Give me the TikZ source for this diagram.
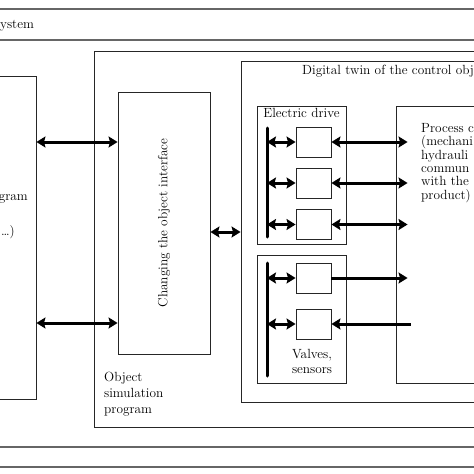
\documentclass[tikz,border=0pt]{standalone}
\usepackage{tikz}
\usetikzlibrary{arrows.meta,positioning,calc}

\tikzset{
  box/.style={draw=black!85,line width=0.9pt,inner sep=0pt},
  unit/.style={box,minimum width=35pt,minimum height=30pt},
  txt/.style={inner sep=0pt},
  both/.style={line width=3pt,{Stealth[length=9pt,width=11pt,inset=1.5pt]}-{Stealth[length=9pt,width=11pt,inset=1.5pt]}},
  tip/.style={line width=3pt,-{Stealth[length=9pt,width=11pt,inset=1.5pt]}},
  bus/.style={line width=3pt,line cap=round},
  rule/.style={draw=black!60,line width=1.3pt},
}

\begin{document}
\begin{tikzpicture}[x=1pt,y=-1pt,font=\fontsize{13.3}{15}\selectfont]
  \useasboundingbox (0,0) rectangle (474,474);
  \clip (0,0) rectangle (474,474);
  %system band
  \draw[rule] (0,9)--(474,9) (0,40)--(474,40);
  \draw[rule] (0,447)--(474,447) (0,467)--(474,467);
  \node[txt,anchor=west] (sys) at (0,26) {ystem};

  %frames
  \node[box,minimum width=396pt,minimum height=376pt] (sim) at (292,239) {};
  \node[box,minimum width=249pt,minimum height=341pt] (twin) at (365.5,231.5) {};
  \node[box,minimum width=56pt,minimum height=323pt] (prog) at (8,237.5) {};
  \node[box,minimum width=92pt,minimum height=262pt] (iface) at (164,223) {};
  \node[box,minimum width=89pt,minimum height=138pt] (drive) at (301.5,175) {};
  \node[box,minimum width=89pt,minimum height=128pt] (valves) at (301.5,319) {};
  \node[box,minimum width=94pt,minimum height=277pt] (proc) at (443,244.5) {};

  %labels
  \node[txt,rotate=90] (ifacetxt) at (iface.center) {Changing the object interface};
  \node[txt,anchor=west] (twintxt) at (302,71) {Digital twin of the control obj};
  \node[txt,below=3pt of drive.north] (drivetxt) {Electric drive};
  \node[txt,align=center] (valvestxt) at (312,361) {Valves,\\sensors};
  \node[txt,align=left,anchor=north west,font=\fontsize{13.3}{16}\selectfont] (simtxt) at (104,372)
    {Object\\simulation\\program};
  \node[txt,align=left,anchor=north west,font=\fontsize{13.3}{13.4}\selectfont] (proctxt) at (421,123)
    {Process c\\(mechani\\hydrauli\\commun\\with the\\product)};
  \node[txt,anchor=east] (progtxt) at (28,199) {gram};
  \node[txt,anchor=east] (progtxt2) at (15,232) {\dots)};

  %links of the control program
  \draw[both] (prog.east |- 0,142) -- (iface.west |- 0,142);
  \draw[both] (prog.east |- 0,323) -- (iface.west |- 0,323);
  \draw[both] (iface.east |- 0,232) -- (twin.west |- 0,232);

  %units and buses
  \foreach \n/\y in {1/142,2/183,3/224.5} \node[unit] (d\n) at (313.5,\y) {};
  \foreach \n/\y in {1/278,2/324} \node[unit] (v\n) at (313.5,\y) {};
  \coordinate (busa) at (267,128);
  \coordinate (busb) at (267,237);
  \coordinate (busc) at (267,263);
  \coordinate (busd) at (267,376);
  \draw[bus] (busa)--(busb);
  \draw[bus] (busc)--(busd);

  \foreach \n in {1,2,3} {
    \draw[both] (busa |- d\n.west) -- (d\n.west);
    \draw[both] (d\n.east) -- ([xshift=12pt]proc.west |- d\n.east);
  }
  \foreach \n in {1,2} \draw[both] (busc |- v\n.west) -- (v\n.west);
  \draw[tip] (v1.east) -- ([xshift=12pt]proc.west |- v1.east);
  \draw[tip] ([xshift=15pt]proc.west |- v2.east) -- (v2.east);
\end{tikzpicture}
\end{document}
